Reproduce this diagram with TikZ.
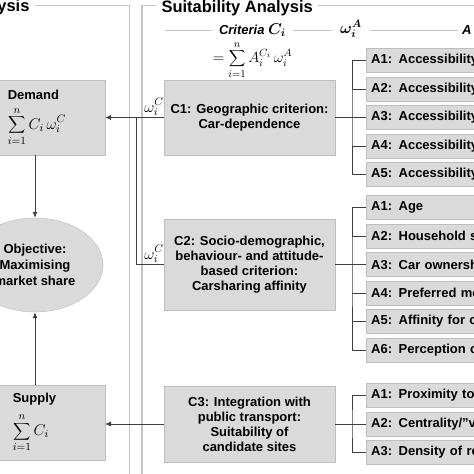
\RequirePackage{fix-cm}
\documentclass[tikz,border=0pt]{standalone}
\usepackage{fontspec}
\setmainfont{Liberation Sans}
\usetikzlibrary{arrows.meta,shapes.geometric}
\definecolor{boxfill}{RGB}{218,218,218}
\definecolor{boxline}{RGB}{190,190,190}
\definecolor{framegray}{RGB}{196,196,196}
\definecolor{conngray}{RGB}{62,62,62}
\newcommand{\mth}[2][1.2]{\scalebox{#1}{$\displaystyle #2$}}
\newcommand{\bmth}[1]{\scalebox{1.2}{\boldmath$#1$}}

\begin{document}
\begin{tikzpicture}[x=1pt, y=-1pt,
	every node/.style={font=\fontsize{13}{15}\selectfont\bfseries},
	title/.style={font=\fontsize{16.5}{18}\selectfont\bfseries},
	hdr/.style={inner xsep=7pt},
	crit/.style={draw=boxline, fill=boxfill, align=center, minimum width=171pt, inner sep=0pt},
	side/.style={draw=boxline, fill=boxfill, align=left, anchor=east, minimum height=75pt, inner ysep=0pt},
	attr/.style={draw=boxline, fill=boxfill, anchor=west, minimum width=200pt, minimum height=24pt, text width=190pt, inner xsep=4pt, inner ysep=0pt, align=left},
	frame/.style={draw=framegray, line width=1.2pt},
	rule/.style={draw=framegray, line width=1pt},
	conn/.style={draw=conngray, line width=0.9pt},
	arr/.style={conn, -{Latex[length=6pt, width=5pt]}}]
	\useasboundingbox (0,0) rectangle (474,474);

	% frames and headers
	\node [title, anchor=base east] (ttlL) at (33,11.5) {ysis};
	\node [title, anchor=base west] (ttlR) at (158,12.5) {Suitability Analysis};
	\draw [frame] ([xshift=2pt]ttlL.east |- 0,5.5) -- (129.5,5.5) -- (129.5,480);
	\draw [frame] (142,480) -- (142,5.5) -- ([xshift=-2pt]ttlR.west |- 0,5.5);
	\draw [frame] ([xshift=2pt]ttlR.east |- 0,5.5) -- (480,5.5);

	\node [hdr, anchor=base] (crit) at (252.5,34.5) {\itshape Criteria \bmth{C_i}};
	\node [hdr, anchor=base, inner xsep=8pt] (wA) at (351,33) {\bmth{\omega_i^A}};
	\node [hdr, anchor=base west, inner xsep=4pt] (atr) at (458,34.5) {\itshape A};
	\node (form) at (252.5,60) {\mth[1.15]{=\sum_{i=1}^{n} A_i^{C_i}\,\omega_i^A}};
	\coordinate (r0) at (165,30);
	\draw [rule] (r0) -- (r0 -| crit.west);
	\draw [rule] (crit.east |- r0) -- (wA.west |- r0);
	\draw [rule] (wA.east |- r0) -- (atr.west |- r0);

	% criteria
	\node [crit, minimum height=75pt] (c1) at (249.5,117.5) {C1: Geographic criterion:\\Car-dependence};
	\node [crit, minimum height=91pt] (c2) at (249.5,264.5) {C2: Socio-demographic,\\behaviour- and attitude-\\based criterion:\\Carsharing affinity};
	\node [crit, minimum height=76pt] (c3) at (249.5,424) {C3: Integration with\\public transport:\\Suitability of\\candidate sites};

	% demand, objective, supply
	\node [side, text width=87pt, inner xsep=10pt] (dem) at (105,117.5) {Demand\\[7pt]\mth{\sum_{i=1}^{n} C_i\,\omega_i^C}};
	\node [side, text width=77pt, inner xsep=15pt] (sup) at (105,422.5) {Supply\\[7pt]\mth{\sum_{i=1}^{n} C_i}};
	\node [ellipse, draw=boxline, fill=boxfill, minimum width=136pt, minimum height=94pt, align=center, font=\fontsize{13}{16}\selectfont\bfseries] (obj) at (35,265) {Objective:\\Maximising\\market share};

	\draw [arr] (c1.west) -- (dem.east);
	\coordinate (j1) at (136,117.5);
	\draw [conn] (c2.west) -| (j1);
	\draw [arr] (c3.west) -- (c3.west -| sup.east);
	\draw [arr] (dem.south -| obj.north) -- (obj.north);
	\draw [arr] (sup.north -| obj.south) -- (obj.south);
	\node (wc1) at (154,107) {\mth{\omega_i^C}};
	\node (wc2) at (154,254) {\mth{\omega_i^C}};

	% attributes
	\coordinate (b1) at (352,117.5);
	\coordinate (b2) at (352,264.5);
	\coordinate (b3) at (352,424);
	\foreach \t [count=\k] in {A1: Accessibility, A2: Accessibility, A3: Accessibility, A4: Accessibility, A5: Accessibility}
		\node [attr] (c1a\k) at (366,{117.5+(\k-3)*28.5}) {\t};
	\foreach \t [count=\k] in {A1: Age, A2: Household s, A3: Car ownersh, A4: Preferred mo, A5: Affinity for c, A6: Perception c}
		\node [attr] (c2a\k) at (366,{264.5+(\k-3)*28.5}) {\t};
	\foreach \t [count=\k] in {A1: Proximity to, A2: Centrality/”v, A3: Density of re}
		\node [attr] (c3a\k) at (366,{424+(\k-2)*28.5}) {\t};

	\draw [conn] (c1.east) -- (b1);
	\draw [conn] (c1a1.west) -| (b1) |- (c1a5.west);
	\foreach \k in {2,3,4}
		\draw [conn] (c1a\k.west) -- (c1a\k.west -| b1);
	\draw [conn] (c2.east) -- (b2);
	\draw [conn] (c2a1.west) -| (b2) |- (c2a6.west);
	\foreach \k in {2,3,4,5}
		\draw [conn] (c2a\k.west) -- (c2a\k.west -| b2);
	\draw [conn] (c3.east) -- (b3);
	\draw [conn] (c3a1.west) -| (b3) |- (c3a3.west);
	\draw [conn] (c3a2.west) -- (c3a2.west -| b3);
\end{tikzpicture}
\end{document}
